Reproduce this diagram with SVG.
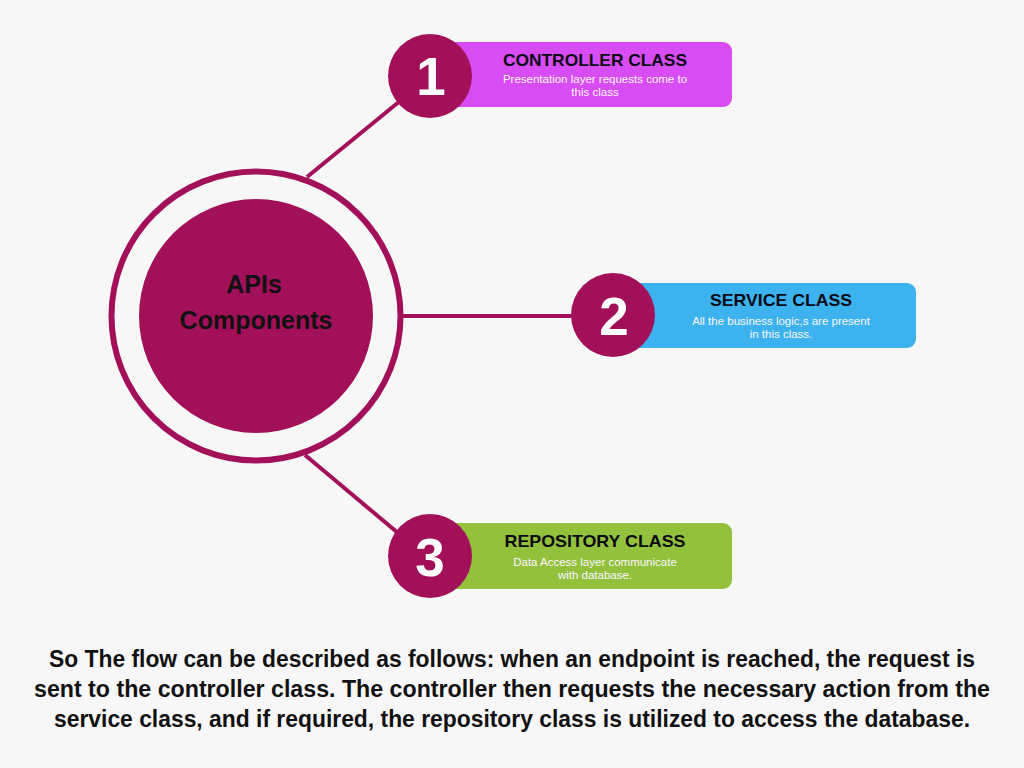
<svg xmlns="http://www.w3.org/2000/svg" width="1024" height="768" viewBox="0 0 1024 768">
<style>
.bg{fill:#f7f7f7}
.mar{fill:#a3105a}
.conn{stroke:#a3105a;stroke-width:4;fill:none}
.num{font-family:"Liberation Sans",Arial,sans-serif;font-weight:bold;font-size:53px;fill:#ffffff;text-anchor:middle}
.title{font-family:"Liberation Sans",Arial,sans-serif;font-weight:900;font-size:17px;fill:#0a0a14;text-anchor:middle}
.sub{font-family:"Liberation Sans",Arial,sans-serif;font-size:11.5px;fill:#fdf6ff;text-anchor:middle}
.hub{font-family:"Liberation Sans",Arial,sans-serif;font-weight:bold;font-size:25px;fill:#111111;text-anchor:middle}
.foot{font-family:"Liberation Sans",Arial,sans-serif;font-weight:bold;font-size:23px;fill:#111111}
</style>
<rect class="bg" x="0" y="0" width="1024" height="768"/>
<g id="connectors">
<line class="conn" x1="307" y1="177" x2="400" y2="101"/>
<line class="conn" x1="403" y1="316" x2="575" y2="316"/>
<line class="conn" x1="305" y1="455" x2="398" y2="533"/>
</g>
<g id="hub">
<circle cx="256" cy="316" r="144.5" fill="none" stroke="#a3105a" stroke-width="6"/>
<circle class="mar" cx="256" cy="316" r="117"/>
<text class="hub" x="254" y="293">APIs</text>
<text class="hub" x="256" y="329">Components</text>
</g>
<g id="controller">
<rect x="430" y="42" width="302" height="65" rx="9" fill="#d84cf3"/>
<circle class="mar" cx="430" cy="76" r="42"/>
<text class="num" x="431" y="95">1</text>
<text class="title" x="595" y="66" textLength="184" lengthAdjust="spacingAndGlyphs">CONTROLLER CLASS</text>
<text class="sub" x="595" y="83">Presentation layer requests come to</text>
<text class="sub" x="595" y="96">this class</text>
</g>
<g id="service">
<rect x="613" y="283" width="303" height="65" rx="9" fill="#3cb3ef"/>
<circle class="mar" cx="613" cy="315" r="42"/>
<text class="num" x="614" y="335">2</text>
<text class="title" x="781" y="306" textLength="142" lengthAdjust="spacingAndGlyphs">SERVICE CLASS</text>
<text class="sub" x="781" y="325">All the business logic,s are present</text>
<text class="sub" x="781" y="338">in this class.</text>
</g>
<g id="repository">
<rect x="430" y="523" width="302" height="66" rx="9" fill="#93c13c"/>
<circle class="mar" cx="430" cy="556" r="42"/>
<text class="num" x="430" y="576">3</text>
<text class="title" x="595" y="547" textLength="181" lengthAdjust="spacingAndGlyphs">REPOSITORY CLASS</text>
<text class="sub" x="595" y="566">Data Access layer communicate</text>
<text class="sub" x="595" y="579">with database.</text>
</g>
<g id="description">
<text class="foot" x="49" y="667" textLength="926" lengthAdjust="spacingAndGlyphs">So The flow can be described as follows: when an endpoint is reached, the request is</text>
<text class="foot" x="34" y="697" textLength="956" lengthAdjust="spacingAndGlyphs">sent to the controller class. The controller then requests the necessary action from the</text>
<text class="foot" x="54" y="727" textLength="916" lengthAdjust="spacingAndGlyphs">service class, and if required, the repository class is utilized to access the database.</text>
</g>
</svg>
